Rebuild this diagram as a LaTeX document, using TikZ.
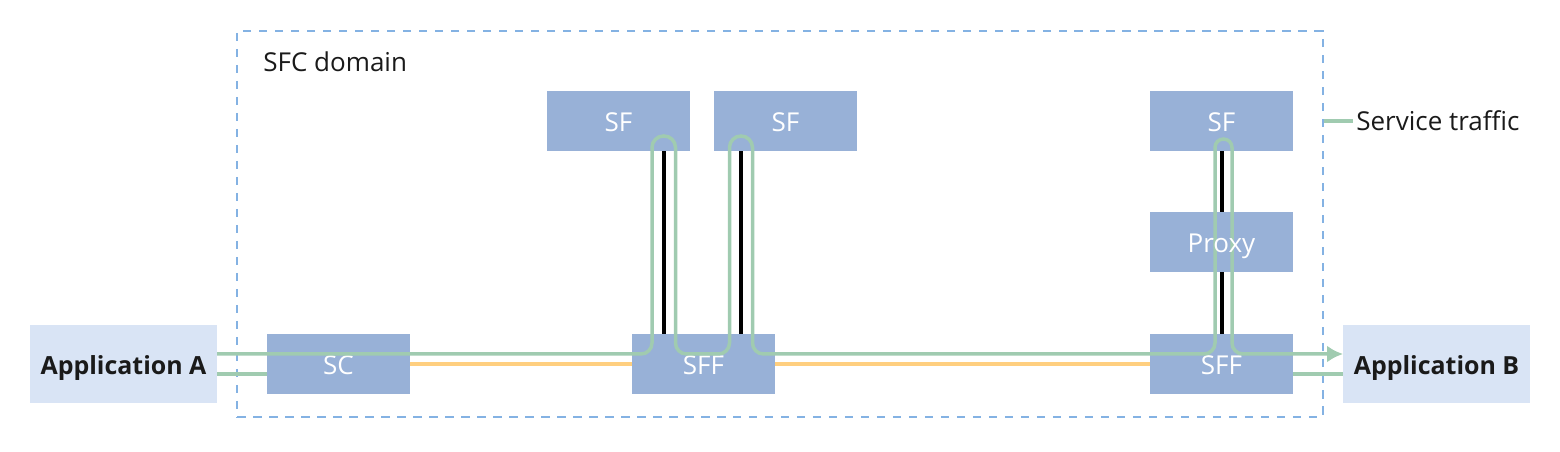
\documentclass[tikz,border=0pt]{standalone}
\usepackage{fontspec}
\setmainfont{Open Sans}
\usetikzlibrary{arrows.meta,backgrounds}
\definecolor{boxblue}{HTML}{98B1D7}
\definecolor{appblue}{HTML}{D9E4F5}
\definecolor{dashblue}{HTML}{84B2E3}
\definecolor{trafficgreen}{HTML}{A0CBB0}
\definecolor{sforange}{HTML}{FFCF7F}
\definecolor{inkblack}{HTML}{1A1A1A}

\begin{document}
\begin{tikzpicture}[x = 0.02cm, y = -0.02cm,
	func/.style = {fill = boxblue, text = white, minimum width = 2.86cm, minimum height = 1.2cm, inner sep = 0pt, text height = 11.4pt, text depth = 0pt, font = \fontsize{14.8}{18}\selectfont},
	app/.style = {fill = appblue, text = inkblack, minimum width = 3.74cm, minimum height = 1.56cm, inner sep = 0pt, text height = 11.4pt, text depth = 0pt, font = \fontsize{14.2}{18}\selectfont\bfseries},
	note/.style = {text = inkblack, inner sep = 0pt, anchor = west, font = \fontsize{14.8}{18}\selectfont},
	sfcbox/.style = {draw = dashblue, line width = 0.04cm, dash pattern = on 0.17cm off 0.15cm, minimum width = 21.72cm, minimum height = 7.72cm, inner sep = 0pt},
	traffic/.style = {draw = trafficgreen, line width = 0.07cm},
	steer/.style = {draw = sforange, line width = 0.07cm},
	wire/.style = {draw = black, line width = 0.08cm}]
	\useasboundingbox (0,0) rectangle (1560,452);
	\node[sfcbox] (sfc) at (780,224) {};
	\node[note] (sfclabel) at (263,62) {SFC domain};
	\node[app] (appa) at (123.5,364) {Application A};
	\node[app] (appb) at (1436.5,364) {Application B};
	\node[func] (sc) at (338.5,364) {SC};
	\node[func] (sff1) at (703.5,364) {SFF};
	\node[func] (sff2) at (1221.5,364) {SFF};
	\node[func] (sf1) at (618.5,121) {SF};
	\node[func] (sf2) at (785.5,121) {SF};
	\node[func] (sf3) at (1221.5,121) {SF};
	\node[func] (proxy) at (1221.5,242) {};
	\node[note] (legend) at (1356,121) {Service traffic};
	\coordinate (tap1) at (663.5,151);
	\coordinate (tap2) at (741,151);
	\coordinate (ina) at (217,354);
	\coordinate (inb) at (1343,354);
	\coordinate (outa) at (217,374);
	\coordinate (outb) at (1293,374);
	\coordinate (legendstart) at (1324,121);
	\coordinate (legendend) at (1353,121);
	\begin{scope}[on background layer]
		\draw[steer] (sc) -- (sff1);
		\draw[steer] (sff1) -- (sff2);
		\draw[wire] (tap1) -- (tap1 |- sff1.north);
		\draw[wire] (tap2) -- (tap2 |- sff1.north);
		\draw[wire] (sf3) -- (proxy);
		\draw[wire] (proxy) -- (sff2);
	\end{scope}
	\draw[traffic, -{Latex[length = 0.32cm, width = 0.34cm]}] (ina)
		[rounded corners = 0.22cm] -- (652,354) [rounded corners = 0.23cm] -- (652,136) -- (675.5,136) [rounded corners = 0.22cm] -- (675.5,354)
		-- (729.5,354) [rounded corners = 0.23cm] -- (729.5,136) -- (752.5,136) [rounded corners = 0.22cm] -- (752.5,354)
		-- (1215,354) [rounded corners = 0.17cm] -- (1215,139) -- (1232,139) [rounded corners = 0.22cm] -- (1232,354) -- (inb);
	\draw[traffic] (outa) -- (sc.west |- outa);
	\draw[traffic] (outb) -- (appb.west |- outb);
	\draw[traffic] (legendstart) -- (legendend);
	\node[func, fill = none] (proxytext) at (proxy) {Proxy};
\end{tikzpicture}
\end{document}
